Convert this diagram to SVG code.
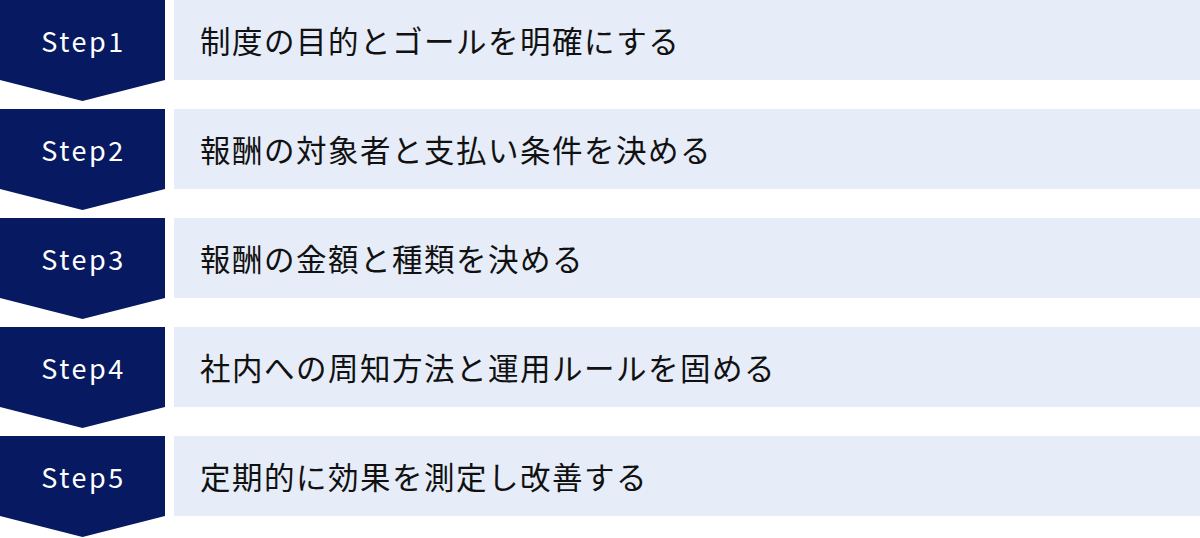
<svg xmlns="http://www.w3.org/2000/svg" width="1200" height="538" viewBox="0 0 1200 538">
<style>
.badge{fill:#061961}
.box{fill:#E6ECF8}
.lbl{font-family:"Noto Sans CJK JP","Noto Sans",sans-serif;font-size:27px;fill:#FFFFFF;text-anchor:middle;letter-spacing:2.5px}
.txt{font-family:"Noto Sans CJK JP",sans-serif;font-size:30.5px;fill:#111111;letter-spacing:1.5px}
</style>
<rect width="1200" height="538" fill="#FFFFFF"/>
<g id="connectors"></g>
<g id="step1" transform="translate(0,0)">
<path class="badge" d="M0 0H165V80L82.5 101L0 80Z"/>
<rect class="box" x="174" y="0" width="1026" height="80"/>
<text class="lbl" x="83.5" y="51.5">Step1</text>
<text class="txt" x="200" y="52.5">制度の目的とゴールを明確にする</text>
</g>
<g id="step2" transform="translate(0,109)">
<path class="badge" d="M0 0H165V80L82.5 101L0 80Z"/>
<rect class="box" x="174" y="0" width="1026" height="80"/>
<text class="lbl" x="83.5" y="51.5">Step2</text>
<text class="txt" x="200" y="52.5">報酬の対象者と支払い条件を決める</text>
</g>
<g id="step3" transform="translate(0,218)">
<path class="badge" d="M0 0H165V80L82.5 101L0 80Z"/>
<rect class="box" x="174" y="0" width="1026" height="80"/>
<text class="lbl" x="83.5" y="51.5">Step3</text>
<text class="txt" x="200" y="52.5">報酬の金額と種類を決める</text>
</g>
<g id="step4" transform="translate(0,327)">
<path class="badge" d="M0 0H165V80L82.5 101L0 80Z"/>
<rect class="box" x="174" y="0" width="1026" height="80"/>
<text class="lbl" x="83.5" y="51.5">Step4</text>
<text class="txt" x="200" y="52.5">社内への周知方法と運用ルールを固める</text>
</g>
<g id="step5" transform="translate(0,436)">
<path class="badge" d="M0 0H165V80L82.5 101L0 80Z"/>
<rect class="box" x="174" y="0" width="1026" height="80"/>
<text class="lbl" x="83.5" y="51.5">Step5</text>
<text class="txt" x="200" y="52.5">定期的に効果を測定し改善する</text>
</g>
</svg>
